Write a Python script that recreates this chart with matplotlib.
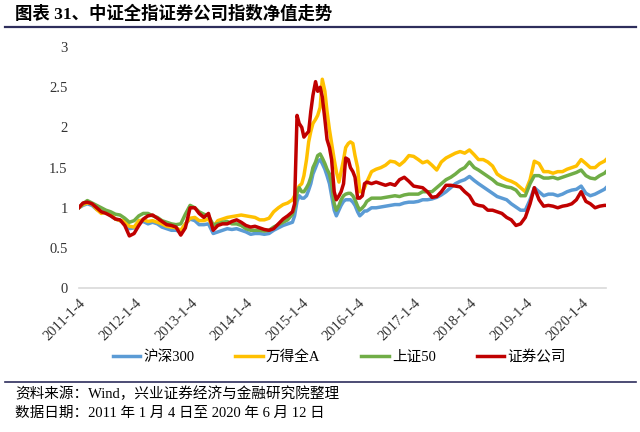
import numpy as np
import pandas as pd
import matplotlib
matplotlib.use('Agg')
import matplotlib.pyplot as plt
from matplotlib.lines import Line2D

plt.rcParams['font.family'] = ['Liberation Serif', 'Noto Sans CJK SC', 'DejaVu Sans']

# 日期：2011-2014.10 按月，2014.11-2016.02 半月，之后按月
d1 = list(pd.date_range('2011-01-01', '2014-10-01', freq='MS'))
d1[0] = pd.Timestamp('2011-01-04')
d2 = list(pd.date_range('2014-11-01', '2016-02-15', freq='SMS'))
d3 = list(pd.date_range('2016-03-01', '2020-06-01', freq='MS'))
dates = pd.DatetimeIndex(d1 + d2 + d3 + [pd.Timestamp('2020-06-12')])

names = ['沪深300', '万得全A', '上证50', '证券公司']

hs300 = [1.0, 1.03, 1.05, 1.03, 0.98, 0.95, 0.95, 0.9, 0.86, 0.84, 0.82, 0.74,
         0.75, 0.82, 0.83, 0.8, 0.82, 0.8, 0.76, 0.74, 0.72, 0.72, 0.7, 0.8,
         0.86, 0.84, 0.79, 0.79, 0.8, 0.68, 0.7, 0.72, 0.74, 0.73, 0.74, 0.72,
         0.7, 0.67, 0.68, 0.68, 0.67, 0.68, 0.72, 0.75, 0.78, 0.8,
         0.82, 0.9, 1.08, 1.15, 1.12, 1.12, 1.15, 1.22, 1.3, 1.42, 1.5, 1.57, 1.6, 1.55, 1.48, 1.4,
         1.3, 1.15, 0.97, 0.9, 0.97, 1.03, 1.08, 1.1, 1.1, 1.1, 1.07, 1.03, 0.95, 0.9, 0.93, 0.96,
         0.96, 1.0, 1.0, 1.01, 1.02, 1.03, 1.04, 1.04, 1.06, 1.07,
         1.07, 1.08, 1.1, 1.1, 1.11, 1.13, 1.16, 1.2, 1.25, 1.3, 1.33, 1.35,
         1.39, 1.34, 1.3, 1.26, 1.22, 1.18, 1.14, 1.12, 1.1, 1.05, 1.01, 0.97,
         0.97, 1.1, 1.25, 1.2, 1.15, 1.17, 1.17, 1.15, 1.17, 1.2, 1.22, 1.23,
         1.27, 1.18, 1.15, 1.17, 1.2, 1.23, 1.25]

wind_a = [1.0, 1.04, 1.06, 1.05, 0.98, 0.93, 0.95, 0.92, 0.86, 0.84, 0.84, 0.77,
          0.76, 0.84, 0.85, 0.83, 0.84, 0.82, 0.8, 0.77, 0.76, 0.75, 0.72, 0.8,
          0.87, 0.88, 0.84, 0.84, 0.86, 0.76, 0.84, 0.86, 0.88, 0.89, 0.9, 0.91,
          0.9, 0.89, 0.88, 0.85, 0.85, 0.87, 0.95, 1.0, 1.04, 1.06,
          1.1, 1.15, 1.22, 1.27, 1.3, 1.4, 1.6, 1.82, 1.95, 2.05, 2.1, 2.15, 2.25, 2.6, 2.45, 2.2,
          1.97, 1.8, 1.6, 1.45, 1.32, 1.45, 1.6, 1.75, 1.8, 1.82, 1.8, 1.65, 1.5, 1.2, 1.2, 1.25,
          1.32, 1.45, 1.48, 1.5, 1.53, 1.58, 1.57, 1.53, 1.58, 1.65,
          1.64, 1.6, 1.56, 1.58, 1.53, 1.47, 1.57, 1.62, 1.65, 1.68, 1.7, 1.68,
          1.72, 1.66, 1.6, 1.6, 1.57, 1.52, 1.42, 1.38, 1.35, 1.33, 1.3, 1.25,
          1.2, 1.35, 1.58, 1.55, 1.45, 1.45, 1.43, 1.45, 1.45, 1.48, 1.5, 1.52,
          1.6, 1.55, 1.5, 1.5, 1.55, 1.58, 1.6]

sz50 = [1.0, 1.05, 1.09, 1.06, 1.03, 1.0, 0.97, 0.95, 0.92, 0.91, 0.87, 0.82,
        0.84, 0.9, 0.93, 0.93, 0.9, 0.88, 0.84, 0.82, 0.8, 0.79, 0.8, 0.92,
        1.03, 1.0, 0.95, 0.92, 0.9, 0.79, 0.8, 0.82, 0.83, 0.8, 0.8, 0.78,
        0.74, 0.72, 0.72, 0.72, 0.71, 0.72, 0.76, 0.79, 0.82, 0.85,
        0.92, 1.0, 1.18, 1.25, 1.2, 1.2, 1.25, 1.3, 1.38, 1.5, 1.57, 1.65, 1.67, 1.62, 1.55, 1.48,
        1.42, 1.3, 1.05, 0.97, 1.03, 1.1, 1.15, 1.17, 1.18, 1.18, 1.15, 1.1, 1.02, 0.97, 1.0, 1.03,
        1.08, 1.12, 1.12, 1.12, 1.13, 1.14, 1.15, 1.14, 1.16, 1.17,
        1.17, 1.17, 1.2, 1.2, 1.2, 1.25, 1.3, 1.35, 1.38, 1.42, 1.47, 1.5,
        1.57, 1.5, 1.47, 1.43, 1.39, 1.35, 1.3, 1.28, 1.26, 1.25, 1.22, 1.15,
        1.15, 1.3, 1.4, 1.4, 1.37, 1.37, 1.38, 1.36, 1.38, 1.4, 1.42, 1.44,
        1.47, 1.4, 1.37, 1.36, 1.4, 1.43, 1.45]

broker = [1.0, 1.06, 1.07, 1.05, 1.0, 0.95, 0.93, 0.9, 0.86, 0.85, 0.78, 0.65,
          0.68, 0.78, 0.86, 0.9, 0.91, 0.87, 0.83, 0.79, 0.78, 0.76, 0.66, 0.75,
          1.0, 1.0, 0.93, 0.88, 0.93, 0.72, 0.78, 0.8, 0.8, 0.83, 0.85, 0.82,
          0.78, 0.76, 0.77, 0.75, 0.73, 0.72, 0.74, 0.8, 0.86, 0.9,
          0.95, 1.05, 2.15, 2.05, 2.0, 1.88, 1.92, 1.95, 2.2, 2.4, 2.57, 2.45, 2.5, 2.38, 2.1, 1.85,
          1.75, 1.6, 1.2, 1.1, 1.15, 1.2, 1.3, 1.62, 1.6, 1.5, 1.45, 1.38, 1.12, 1.12, 1.15, 1.3,
          1.32, 1.3, 1.32, 1.3, 1.28, 1.3, 1.28, 1.35, 1.38, 1.33,
          1.27, 1.26, 1.25, 1.2, 1.13, 1.14, 1.2, 1.28, 1.28, 1.27, 1.26, 1.2,
          1.15, 1.05, 1.03, 1.02, 0.97, 0.97, 0.95, 0.93, 0.88, 0.85, 0.78, 0.8,
          0.88, 1.05, 1.25, 1.1, 1.02, 1.03, 1.02, 1.0, 1.02, 1.03, 1.05, 1.1,
          1.2, 1.08, 1.05, 1.0, 1.02, 1.03, 1.03]

colors = ['#5B9BD5', '#FFC000', '#70AD47', '#C00000']

tick_dates = pd.to_datetime(['%d-01-04' % y for y in range(2011, 2021)])
tick_labels = ['%d-1-4' % y for y in range(2011, 2021)]

fig = plt.figure(figsize=(6.4, 4.32), dpi=100)
ax = fig.add_axes([0.123, 0.333, 0.824, 0.558])

for name, vals, c in zip(names, [hs300, wind_a, sz50, broker], colors):
    ax.plot(dates, vals, color=c, lw=2.5, label=name, solid_joinstyle='round')

ax.set_xlim(dates[0], dates[-1])
ax.set_ylim(0, 3)
ax.set_yticks(np.arange(0, 3.01, 0.5))
ax.set_yticklabels(['0', '0.5', '1', '1.5', '2', '2.5', '3'])
ax.set_xticks(tick_dates)
ax.set_xticklabels(tick_labels, rotation=45, ha='right', rotation_mode='anchor')
ax.tick_params(axis='both', length=0, labelsize=10.5, colors='#333333')
ax.tick_params(axis='y', pad=8)
ax.tick_params(axis='x', pad=6)
for s in ['top', 'right', 'left']:
    ax.spines[s].set_visible(False)
ax.spines['bottom'].set_color('#D9D9D9')
ax.spines['bottom'].set_linewidth(1.2)

fig.legend(loc='center', bbox_to_anchor=(0.53, 1 - 357 / 432), ncol=4, frameon=False,
           fontsize=10.5, handlelength=1.9, handletextpad=0.2, columnspacing=2.8)

# 标题与分隔线
fig.text(15 / 640, 1 - 14 / 432, '图表 31、中证全指证券公司指数净值走势', fontsize=12.5,
         fontweight='bold', ha='left', va='center')
fig.add_artist(Line2D([5 / 640, 636 / 640], [1 - 27 / 432] * 2, color='#2E2E5C', lw=1.6))
fig.add_artist(Line2D([5 / 640, 636 / 640], [1 - 382 / 432] * 2, color='#2E2E5C', lw=1.2))

fig.text(15 / 640, 1 - 394 / 432, '资料来源：Wind，兴业证券经济与金融研究院整理', fontsize=10.5,
         ha='left', va='center')
fig.text(15 / 640, 1 - 413 / 432, '数据日期：2011 年 1 月 4 日至 2020 年 6 月 12 日', fontsize=10.5,
         ha='left', va='center')

fig.savefig('out.png', dpi=100)
